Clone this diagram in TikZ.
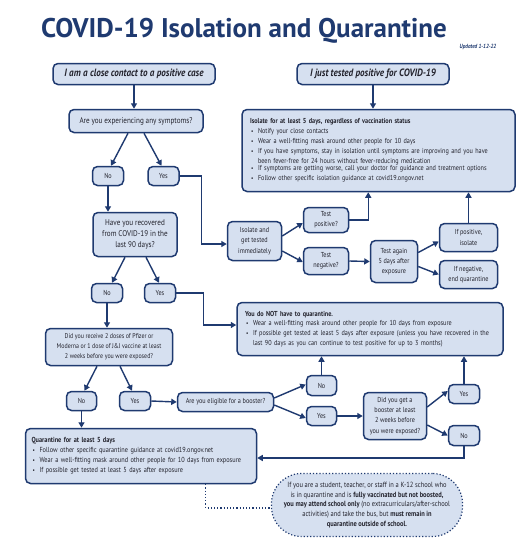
\documentclass[tikz,border=0pt]{standalone}
\usepackage{fontspec}
\setmainfont{PT Sans}[FakeStretch=0.86]
\newfontfamily\titlefont{PT Sans}
\usetikzlibrary{arrows.meta,calc}
\definecolor{cnavy}{RGB}{31,58,112}
\definecolor{cfill}{RGB}{214,224,240}
\definecolor{ctext}{RGB}{35,35,45}
\newcommand{\bitem}[1]{\par\noindent\makebox[8pt][l]{\hspace{1pt}{\fontsize{6}{6}\selectfont\textbullet}}\parbox[t]{\dimexpr\hsize-8pt\relax}{\raggedright #1}}
\tikzset{
  box/.style={draw=cnavy, fill=cfill, line width=1.5pt, rounded corners=5pt, inner sep=1pt, align=center, text=ctext, font=\fontsize{7.2}{10.3}\selectfont},
  bigtext/.style={font=\fontsize{8.3}{10.8}\selectfont},
  lbox/.style={box, align=left, inner xsep=8pt, font=\fontsize{7.2}{9.8}\selectfont},
  hbox/.style={box, font=\fontsize{10.6}{11}\selectfont\bfseries\itshape},
  arr/.style={draw=cnavy, line width=1.4pt, -{Triangle[length=5.5pt,width=6pt]}},
  dotline/.style={draw=cnavy, line width=1.2pt, dotted},
}
\begin{document}
\begin{tikzpicture}[x=1pt,y=-1pt]
\fill[white] (0,0) rectangle (531,542);
\useasboundingbox (0,0) rectangle (531,542);

\node[font=\titlefont\bfseries\fontsize{27}{29}\selectfont, text=cnavy] (title) at (244,31) {COVID-19 Isolation and Quarantine};
\node[font=\bfseries\itshape\fontsize{6}{6}\selectfont, text=cnavy] (upd) at (478,47) {Updated 1-12-22};

\node[hbox, minimum width=162pt, minimum height=21pt] (cc) at (134,74) {I am a close contact to a positive case};
\node[hbox, minimum width=152pt, minimum height=21pt] (pos) at (373,74) {I just tested positive for COVID-19};

\node[box, bigtext, minimum width=134pt, minimum height=23pt] (sym) at (136,121) {Are you experiencing any symptoms?};
\node[box, minimum width=31pt, minimum height=19pt] (no1) at (108,176) {No};
\node[box, minimum width=31pt, minimum height=19pt] (yes1) at (163.5,176) {Yes};
\node[box, bigtext, minimum width=84pt, minimum height=44pt] (rec) at (135,234.5) {Have you recovered\\from COVID-19 in the\\last 90 days?};

\node[lbox, text width=257pt, minimum width=273pt, minimum height=82pt] (iso) at (378.5,150.5) {\textbf{Isolate for at least 5 days, regardless of vaccination status}
\bitem{Notify your close contacts}
\bitem{Wear a well-fitting mask around other people for 10 days}
\bitem{If you have symptoms, stay in isolation until symptoms are improving and you have\newline been fever-free for 24 hours without fever-reducing medication}
\bitem{If symptoms are getting worse, call your doctor for guidance and treatment options}
\bitem{Follow other specific isolation guidance at covid19.ongov.net}};

\node[box, minimum width=54pt, minimum height=39pt] (igt) at (254.5,241) {Isolate and\\get tested\\immediately};
\node[box, minimum width=45pt, minimum height=25pt] (tpos) at (326,220) {Test\\positive?};
\node[box, minimum width=45pt, minimum height=27pt] (tneg) at (326,261) {Test\\negative?};
\node[box, minimum width=47pt, minimum height=42pt] (tag) at (394,261.5) {Test again\\5 days after\\exposure};
\node[box, minimum width=58pt, minimum height=28pt] (ifp) at (468.5,237.5) {If positive,\\isolate};
\node[box, minimum width=58pt, minimum height=28pt] (ifn) at (468.5,274.5) {If negative,\\end quarantine};

\node[box, minimum width=31pt, minimum height=19pt] (no2) at (107,293) {No};
\node[box, minimum width=31pt, minimum height=19pt] (yes2) at (160,293) {Yes};

\node[lbox, text width=250pt, minimum width=265pt, minimum height=53pt] (notq) at (370,329) {\textbf{You do NOT have to quarantine.}
\bitem{Wear a well-fitting mask around other people for 10 days from exposure}
\bitem{If possible get tested at least 5 days after exposure (unless you have recovered in the\newline last 90 days as you can continue to test positive for up to 3 months)}};

\node[box, font=\fontsize{6.9}{10}\selectfont, minimum width=127pt, minimum height=37pt] (rcv) at (109,347) {Did you receive 2 doses of Pfizer or\\Moderna or 1 dose of J\&J vaccine at least\\2 weeks before you were exposed?};
\node[box, minimum width=30pt, minimum height=19pt] (no3) at (81.5,401) {No};
\node[box, minimum width=31pt, minimum height=19pt] (yes3) at (135,401) {Yes};
\node[box, minimum width=96pt, minimum height=19pt] (elig) at (225.5,402) {Are you eligible for a booster?};
\node[box, minimum width=30pt, minimum height=20pt] (no4) at (321.5,385.5) {No};
\node[box, minimum width=30pt, minimum height=19pt] (yes4) at (321.5,416) {Yes};
\node[box, minimum width=63pt, minimum height=47pt] (dgb) at (395,416) {Did you get a\\booster at least\\2 weeks before\\you were exposed?};
\node[box, minimum width=31pt, minimum height=19pt] (yes5) at (464,394) {Yes};
\node[box, minimum width=31pt, minimum height=20pt] (no5) at (464,435.5) {No};

\node[lbox, inner xsep=6pt, font=\fontsize{7.3}{10}\selectfont, text width=219pt, minimum width=231pt, minimum height=55pt] (quar) at (141,456) {\textbf{Quarantine for at least 5 days}
\bitem{Follow other specific quarantine guidance at covid19.ongov.net}
\bitem{Wear a well-fitting mask around other people for 10 days from exposure}
\bitem{If possible get tested at least 5 days after exposure}};

\node[box, draw=cnavy, line width=1.2pt, dotted, rounded corners=30pt, minimum width=191pt, minimum height=63pt, font=\fontsize{7.5}{9.8}\selectfont] (k12) at (367,505) {If you are a student, teacher, or staff in a K-12 school who\\is in quarantine and is \textbf{fully vaccinated but not boosted,}\\\textbf{you may attend school only} (no extracurriculars/after-school\\activities) and take the bus, but \textbf{must remain in}\\\textbf{quarantine outside of school.}};

% connectors
\draw[arr] (cc.south) -- (cc.south |- sym.north);
\draw[arr] (pos.south) -- (pos.south |- iso.north);
\draw[arr] ($(sym.south)+(-8,0)$) -- ($(no1.north)+(3,0)$);
\draw[arr] ($(sym.south)+(8,0)$) -- ($(yes1.north)+(-2,0)$);
\draw[arr] (no1.south) -- (no1.south |- rec.north);
\draw[arr] (yes1.east) -- ++(22,0) |- ($(igt.west)+(0,3)$);
\draw[arr] ($(igt.east)+(0,-5)$) -- ($(tpos.west)+(0,3)$);
\draw[arr] ($(igt.east)+(0,10)$) -- ($(tneg.west)+(0,1)$);
\draw[arr] (tpos.east) -| ($(iso.south west)+(127,0)$);
\draw[arr] (tneg.east) -- (tag.west);
\draw[arr] ($(tag.east)+(0,-9)$) -- ($(ifp.west)+(0,4)$);
\draw[arr] ($(tag.east)+(0,5)$) -- (ifn.west);
\draw[arr] (ifp.north) -- (ifp.north |- iso.south);
\draw[arr] ($(rec.south)+(-10,0)$) -- ($(no2.north)+(5,0)$);
\draw[arr] ($(rec.south)+(11,0)$) -- ($(yes2.north)+(-1,0)$);
\draw[arr] (yes2.east) -- ++(27,0) |- ($(notq.west)+(0,-4)$);
\draw[arr] (no2.south) -- (no2.south |- rcv.north);
\draw[arr] ($(rcv.south)+(-12,0)$) -- ($(no3.north)+(3,0)$);
\draw[arr] ($(rcv.south)+(11,0)$) -- ($(yes3.north)+(-3,0)$);
\draw[arr] (yes3.east) -- (elig.west);
\draw[arr] ($(elig.east)+(0,-4)$) -- ($(no4.west)+(0,-1)$);
\draw[arr] ($(elig.east)+(0,3)$) -- ($(yes4.west)+(0,2)$);
\draw[arr] (no4.north) -- (no4.north |- notq.south);
\draw[arr] (yes4.east) -- (dgb.west);
\draw[arr] ($(dgb.east)+(0,-9)$) -- ($(yes5.west)+(0,-3)$);
\draw[arr] ($(dgb.east)+(0,9)$) -- (no5.west);
\draw[arr] (yes5.north) -- (yes5.north |- notq.south);
\draw[arr] (no5.south) |- ($(quar.east)+(0,2)$);
\draw[arr] (no3.south) -- (no3.south |- quar.north);
\draw[dotline] ($(quar.south west)+(181,0)$) |- ($(k12.west)+(0,3)$);
\end{tikzpicture}
\end{document}
